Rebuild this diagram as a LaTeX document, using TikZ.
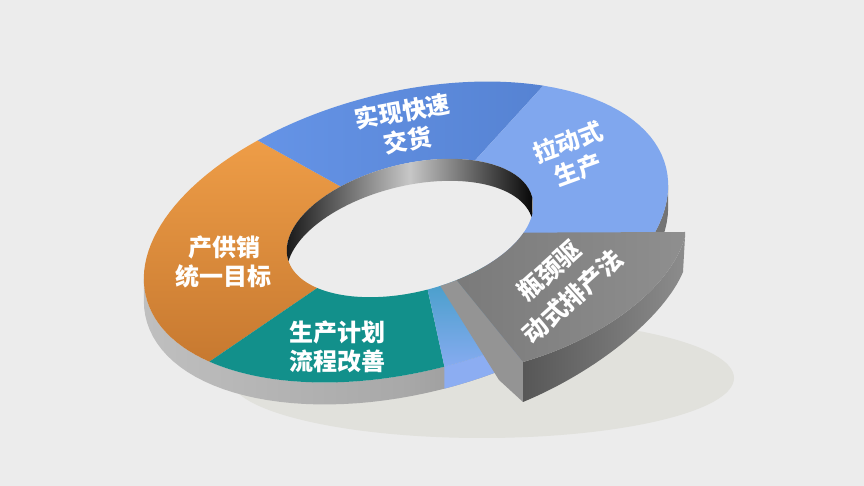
\documentclass[tikz,border=0pt]{standalone}
\usepackage{fontspec}
\newfontfamily\cjk{Noto Sans CJK SC}
\definecolor{bgcol}{HTML}{ECECEC}
\definecolor{shadowcol}{HTML}{E1E1DC}
\definecolor{orangetop}{HTML}{EE9D47}
\definecolor{orangebot}{HTML}{C77930}
\definecolor{bluecol}{HTML}{5D8EE5}
\definecolor{lightcol}{HTML}{80A7EE}
\definecolor{tealcol}{HTML}{12908B}
\definecolor{slivertop}{HTML}{3E9DC4}
\definecolor{sliverbot}{HTML}{86ABF0}
\definecolor{sliverwall}{HTML}{8CADF2}
\tikzset{
  % outer and inner edge of the ring top, t runs clockwise
  declare function={
    ox(\t)=406+260*cos(\t)+33.9*sin(\t);
    oy(\t)=232-64.8*cos(\t)+135.8*sin(\t);
    ix(\t)=410+122.3*cos(\t)+15.5*sin(\t);
    iy(\t)=228-30.5*cos(\t)+62.1*sin(\t);
  },
  segtext/.style = {align=center, inner sep=0pt, text=white,
    font=\cjk\bfseries\fontsize{12}{14.8}\selectfont},
  orangeface/.style = {top color=orangetop, bottom color=orangebot},
  blueface/.style = {left color=bluecol!95!white, right color=bluecol!92!black},
  lightface/.style = {fill=lightcol},
  tealface/.style = {fill=tealcol},
  sliverface/.style = {top color=slivertop, bottom color=sliverbot},
  outerwall/.style = {left color=black!25, right color=black!55,
    middle color=black!34},
  innerwall/.style = {left color=black!90, right color=black!97,
    middle color=black!22},
  arrowtop/.style = {left color=black!52, right color=black!44},
  arrowfront/.style = {left color=black!66, right color=black!45},
  arrowside/.style = {fill=black!42}
}
\newcommand{\ringseg}[3]{%
  \path[#1] plot[domain=#2:#3, samples=40] ({ox(\x)},{oy(\x)})
    -- plot[domain=#3:#2, samples=40] ({ix(\x)},{iy(\x)}) -- cycle;}

\begin{document}
\begin{tikzpicture}[x=0.5pt, y=-0.5pt]
    \useasboundingbox (0,0) rectangle (864,486);
    \fill[bgcol] (0,0) rectangle (864,486);
    \fill[shadowcol] (482,378) ellipse [x radius=252, y radius=60];

    % side of the ring
    \path[outerwall] plot[domain=7.4:187.4, samples=60] ({ox(\x)},{oy(\x)})
        -- plot[domain=187.4:7.4, samples=60] ({ox(\x)},{oy(\x)+22}) -- cycle;
    \fill[sliverwall] plot[domain=60:89, samples=20] ({ox(\x)},{oy(\x)})
        -- plot[domain=89:60, samples=20] ({ox(\x)},{oy(\x)+22}) -- cycle;

    % top of the ring
    \ringseg{orangeface}{146}{243}
    \ringseg{blueface}{243}{309}
    \ringseg{lightface}{309}{420}
    \ringseg{tealface}{89}{146}
    \ringseg{sliverface}{60}{89}

    % wall seen through the hole
    \begin{scope}
        \clip plot[domain=0:360, samples=90] ({ix(\x)},{iy(\x)}) -- cycle;
        \path[innerwall] plot[domain=180:360, samples=60] ({ix(\x)},{iy(\x)})
            -- plot[domain=360:180, samples=60] ({ix(\x)},{iy(\x)+22}) -- cycle;
    \end{scope}

    % the block that sticks out
    \path[arrowside] plot[domain=83:75, samples=5] ({ix(\x)},{iy(\x)})
        -- (523,362) -- (523,402) -- (499,380) -- cycle;
    \path[arrowfront] (523,362) .. controls (600,340) and (670,290) .. (685,237)
        -- (683,272) .. controls (665,315) and (600,370) .. (523,402) -- cycle;
    \path[arrowtop] plot[domain=75:30, samples=20] ({ix(\x)},{iy(\x)})
        -- (685,232) -- (685,237) .. controls (670,290) and (600,340) .. (523,362)
        -- cycle;

    \node[segtext, rotate=10] (deliver) at (405,126) {实现快速\\交货};
    \node[segtext, rotate=20] (pull) at (573,156) {拉动式\\生产};
    \node[segtext] (target) at (224,262) {产供销\\统一目标};
    \node[segtext] (plan) at (337,347) {生产计划\\流程改善};
    \node[segtext, rotate=42, font=\cjk\bfseries\fontsize{12.5}{17.5}\selectfont]
        (bottleneck) at (561,284) {瓶颈驱\\动式排产法};
\end{tikzpicture}
\end{document}
